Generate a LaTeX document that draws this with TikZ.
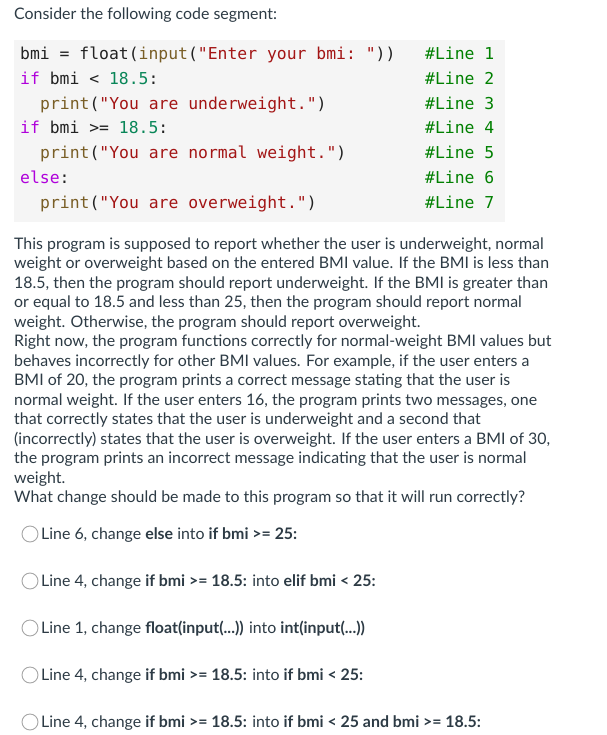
\documentclass[tikz,border=0pt]{standalone}
\usepackage{fontspec}
\setmainfont{Lato}
\setmonofont{DejaVu Sans Mono}
\definecolor{cdark}{HTML}{222222}
\definecolor{cfun}{HTML}{795E26}
\definecolor{cstr}{HTML}{A31515}
\definecolor{ckw}{HTML}{AF00DB}
\definecolor{cnum}{HTML}{098658}
\definecolor{ccom}{HTML}{008000}
\definecolor{ctext}{HTML}{2D3B45}
\definecolor{codebg}{HTML}{F5F5F5}
\tikzset{
 prose/.style={anchor=base west,inner sep=0pt,font=\fontsize{15.9}{18}\selectfont,text=ctext},
 code/.style={anchor=base west,inner sep=0pt,font=\ttfamily\fontsize{16.4}{18}\selectfont,text=cdark},
 radio/.style={circle,draw=gray!70,line width=0.9pt,minimum size=16pt,inner sep=0pt,fill=white},
}
\newcommand{\kw}[1]{\textcolor{ckw}{#1}}
\newcommand{\nm}[1]{\textcolor{cnum}{#1}}
\newcommand{\st}[1]{\textcolor{cstr}{#1}}
\newcommand{\fn}[1]{\textcolor{cfun}{#1}}
\begin{document}
\begin{tikzpicture}[x=1pt,y=-1pt]
\useasboundingbox[fill=white] (0,0) rectangle (606,735);
\node[prose] (head) at (14,20) {Consider the following code segment:};
\fill[codebg] (14,40) rectangle (505,222);
\node[code] (c1) at (20,60) {bmi = float(\fn{input}(\st{"Enter your bmi: "}))};
\node[code] (c2) at (20,85) {\kw{if} bmi < \nm{18.5}:};
\node[code] (c3) at (40,110) {\fn{print}(\st{"You are underweight."})};
\node[code] (c4) at (20,134) {\kw{if} bmi >= \nm{18.5}:};
\node[code] (c5) at (40,159) {\fn{print}(\st{"You are normal weight."})};
\node[code] (c6) at (20,184) {\kw{else}:};
\node[code] (c7) at (40,209) {\fn{print}(\st{"You are overweight."})};
\foreach \i/\y in {1/60,2/85,3/110,4/134,5/159,6/184,7/209}
  \node[code,text=ccom] (l\i) at (425,\y) {\#Line \i};
\foreach \t [count=\i] in {
 {This program is supposed to report whether the user is underweight, normal},
 {weight or overweight based on the entered BMI value. If the BMI is less than},
 {18.5, then the program should report underweight. If the BMI is greater than},
 {or equal to 18.5 and less than 25, then the program should report normal},
 {weight. Otherwise, the program should report overweight.},
 {Right now, the program functions correctly for normal-weight BMI values but},
 {behaves incorrectly for other BMI values. For example, if the user enters a},
 {BMI of 20, the program prints a correct message stating that the user is},
 {normal weight. If the user enters 16, the program prints two messages, one},
 {that correctly states that the user is underweight and a second that},
 {(incorrectly) states that the user is overweight. If the user enters a BMI of 30,},
 {the program prints an incorrect message indicating that the user is normal},
 {weight.},
 {What change should be made to this program so that it will run correctly?}}
  \node[prose] (p\i) at (14,{249+(\i-1)*19.5}) {\t};
\foreach \y [count=\i] in {534,581,628,675,722}
  \node[radio] (r\i) at (30,\y) {};
\node[prose] (o1) at (41,539) {Line 6, change \textbf{else} into \textbf{if bmi >= 25:}};
\node[prose] (o2) at (41,586) {Line 4, change \textbf{if bmi >= 18.5:} into \textbf{elif bmi < 25:}};
\node[prose] (o3) at (41,633) {Line 1, change \textbf{float(input(...))} into \textbf{int(input(...))}};
\node[prose] (o4) at (41,680) {Line 4, change \textbf{if bmi >= 18.5:} into \textbf{if bmi < 25:}};
\node[prose] (o5) at (41,727) {Line 4, change \textbf{if bmi >= 18.5:} into \textbf{if bmi < 25 and bmi >= 18.5:}};
\end{tikzpicture}
\end{document}
